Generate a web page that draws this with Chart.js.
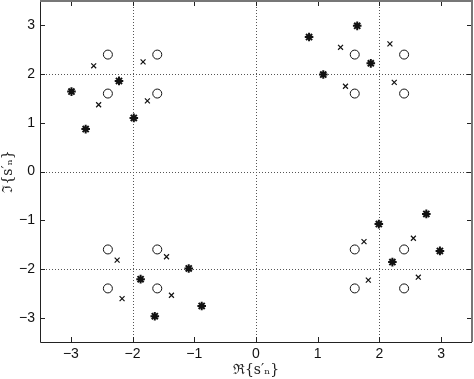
<!DOCTYPE html>
<html>
<head>
<meta charset="utf-8">
<script src="https://cdn.jsdelivr.net/npm/chart.js@4/dist/chart.umd.min.js"></script>
<style>
  body { margin: 0; background: #fff; }
</style>
</head>
<body>
<canvas id="chart" width="474" height="379"></canvas>
<script>
// circles (o)
var circX = [-2.4, -1.6, -2.4, -1.6, 1.6, 2.4, 1.6, 2.4, -2.4, -1.6, -2.4, -1.6, 1.6, 2.4, 1.6, 2.4];
var circY = [2.4, 2.4, 1.6, 1.6, 2.4, 2.4, 1.6, 1.6, -1.6, -1.6, -2.4, -2.4, -1.6, -1.6, -2.4, -2.4];
// crosses (x)
var crossX = [-2.63, -1.83, -2.55, -1.76, 1.37, 2.17, 1.45, 2.24, -2.25, -1.45, -2.17, -1.37, 1.75, 2.55, 1.82, 2.63];
var crossY = [2.17, 2.25, 1.37, 1.45, 2.55, 2.62, 1.75, 1.83, -1.82, -1.75, -2.61, -2.54, -1.44, -1.37, -2.23, -2.17];
// asterisks (*)
var starX = [-2.99, -2.22, -2.76, -1.98, 1.64, 0.86, 1.86, 1.09, -1.09, -1.87, -0.88, -1.64, 2.76, 1.99, 2.98, 2.21];
var starY = [1.64, 1.86, 0.87, 1.10, 2.99, 2.76, 2.22, 1.99, -1.99, -2.21, -2.76, -2.97, -0.87, -1.08, -1.63, -1.86];

var tickValues = [-3, -2, -1, 0, 1, 2, 3];
var gridValues = [-2, 0, 2];
var xTitle = "ℜ{s′ₙ}";
var yTitle = "ℑ{s′ₙ}";

var toPoints = function (xs, ys) {
    return xs.map(function (x, i) { return { x: x, y: ys[i] }; });
};

var fmt = function (v) {
    return v < 0 ? "\u2212" + Math.abs(v) : String(v);
};

var axisPlugin = {
    id: "matlabAxes",
    beforeDatasetsDraw: function (chart) {
        var c = chart.ctx, a = chart.chartArea;
        var xs = chart.scales.x, ys = chart.scales.y;
        c.save();
        // dotted grid
        c.strokeStyle = "#555";
        c.lineWidth = 1;
        c.setLineDash([1, 2]);
        gridValues.forEach(function (v) {
            var px = Math.round(xs.getPixelForValue(v)) + 0.5;
            c.beginPath(); c.moveTo(px, a.top); c.lineTo(px, a.bottom); c.stroke();
            var py = Math.round(ys.getPixelForValue(v)) + 0.5;
            c.beginPath(); c.moveTo(a.left, py); c.lineTo(a.right, py); c.stroke();
        });
        c.setLineDash([]);
        // inward tick marks
        c.strokeStyle = "#222";
        tickValues.forEach(function (v) {
            var px = Math.round(xs.getPixelForValue(v)) + 0.5;
            c.beginPath();
            c.moveTo(px, a.bottom); c.lineTo(px, a.bottom - 5);
            c.moveTo(px, a.top); c.lineTo(px, a.top + 5);
            c.stroke();
            var py = Math.round(ys.getPixelForValue(v)) + 0.5;
            c.beginPath();
            c.moveTo(a.left, py); c.lineTo(a.left + 5, py);
            c.moveTo(a.right, py); c.lineTo(a.right - 5, py);
            c.stroke();
        });
        // frame
        c.strokeStyle = "#222";
        c.beginPath();
        c.moveTo(Math.round(a.left) + 0.5, a.top);
        c.lineTo(Math.round(a.left) + 0.5, Math.round(a.bottom) + 0.5);
        c.lineTo(a.right, Math.round(a.bottom) + 0.5);
        c.stroke();
        c.strokeStyle = "#777";
        c.lineWidth = 2;
        c.beginPath();
        c.moveTo(a.left, a.top);
        c.lineTo(a.right, a.top);
        c.lineTo(a.right, a.bottom);
        c.stroke();
        c.restore();
    }
};

var ctx = document.getElementById("chart");
var chart = new Chart(ctx, {
    type: "scatter",
    data: {
        datasets: [
            {
                label: "o",
                data: toPoints(circX, circY),
                pointStyle: "circle",
                pointRadius: 4.5,
                borderColor: "#111",
                backgroundColor: "rgba(0,0,0,0)",
                borderWidth: 1
            },
            {
                label: "x",
                data: toPoints(crossX, crossY),
                pointStyle: "crossRot",
                pointRadius: 3.5,
                borderColor: "#111",
                borderWidth: 1.2
            },
            {
                label: "*",
                data: toPoints(starX, starY),
                pointStyle: "star",
                pointRadius: 4.3,
                borderColor: "#111",
                borderWidth: 2
            }
        ]
    },
    options: {
        responsive: false,
        animation: false,
        events: [],
        layout: { autoPadding: false, padding: { top: 1, right: 2, left: 0, bottom: 0 } },
        plugins: {
            legend: { display: false },
            tooltip: { enabled: false }
        },
        scales: {
            x: {
                type: "linear",
                min: -3.5,
                max: 3.5,
                afterBuildTicks: function (s) {
                    s.ticks = tickValues.map(function (v) { return { value: v }; });
                },
                afterFit: function (s) {
                    s.height = 37;
                    s.paddingLeft = 0;
                    s.paddingRight = 0;
                },
                grid: { display: false, drawTicks: false },
                border: { display: false },
                ticks: {
                    padding: 4,
                    color: "#111",
                    maxRotation: 0,
                    font: { family: "'Liberation Sans', Arial, sans-serif", size: 14 },
                    callback: fmt
                },
                title: {
                    display: true,
                    text: xTitle,
                    color: "#222",
                    padding: 0,
                    font: { family: "'DejaVu Serif', 'Liberation Serif', serif", size: 14 }
                }
            },
            y: {
                type: "linear",
                min: -3.5,
                max: 3.5,
                afterBuildTicks: function (s) {
                    s.ticks = tickValues.map(function (v) { return { value: v }; });
                },
                afterFit: function (s) {
                    s.width = 40;
                    s.paddingTop = 0;
                    s.paddingBottom = 0;
                },
                grid: { display: false, drawTicks: false },
                border: { display: false },
                ticks: {
                    padding: 5,
                    color: "#111",
                    font: { family: "'Liberation Sans', Arial, sans-serif", size: 14 },
                    callback: fmt
                },
                title: {
                    display: true,
                    text: yTitle,
                    color: "#222",
                    padding: 0,
                    font: { family: "'DejaVu Serif', 'Liberation Serif', serif", size: 14 }
                }
            }
        }
    },
    plugins: [axisPlugin]
});
</script>
</body>
</html>
